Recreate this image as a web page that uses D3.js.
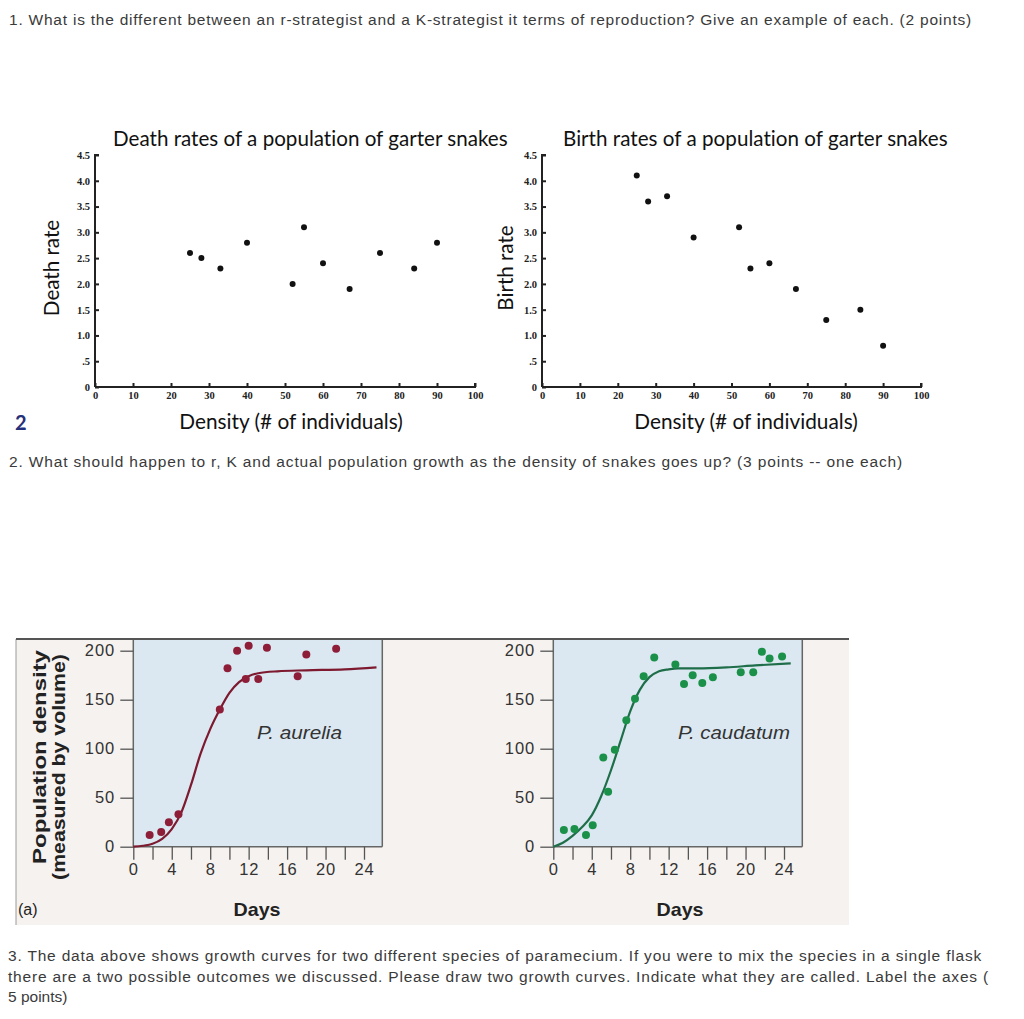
<!DOCTYPE html>
<html><head><meta charset="utf-8">
<script src="https://cdn.jsdelivr.net/npm/d3@7"></script>
<style>body{margin:0;background:#fff}svg{display:block}</style></head>
<body><svg id="c" width="1024" height="1019"></svg>
<script>
// ---------- data ----------
const deathDensity = [25, 28, 33, 40, 52, 55, 60, 67, 75, 84, 90];
const deathRate = [2.6, 2.5, 2.3, 2.8, 2.0, 3.1, 2.4, 1.9, 2.6, 2.3, 2.8];
const birthDensity = [25, 28, 33, 40, 52, 55, 60, 67, 75, 84, 90];
const birthRate = [4.1, 3.6, 3.7, 2.9, 3.1, 2.3, 2.4, 1.9, 1.3, 1.5, 0.8];
const snakeXTicks = [0, 10, 20, 30, 40, 50, 60, 70, 80, 90, 100];
const snakeXLabels = ["0", "10", "20", "30", "40", "50", "60", "70", "80", "90", "100"];
const snakeYTicks = [0, 0.5, 1, 1.5, 2, 2.5, 3, 3.5, 4, 4.5];
const snakeYLabels = ["0", ".5", "1.0", "1.5", "2.0", "2.5", "3.0", "3.5", "4.0", "4.5"];

const aureliaDays = [1.7, 2.9, 3.7, 4.7, 9.0, 9.8, 10.8, 12.0, 11.7, 13.0, 13.9, 17.1, 18.0, 21.1];
const aureliaPop  = [12, 15, 25, 33, 140, 182, 200, 205, 171, 171, 203, 174, 196, 202];
const aureliaCurveDays = [0, 1, 2, 3, 4, 5, 6, 7, 8, 9, 10, 11, 12, 13, 15, 18, 22, 25.3];
const aureliaCurvePop  = [0, 1, 3, 8, 18, 35, 63, 95, 120, 140, 157, 168, 174, 177, 179, 180, 181, 183];

const caudatumDays = [1.1, 2.2, 3.4, 4.1, 5.2, 5.7, 6.4, 7.6, 8.5, 9.4, 10.5, 12.7, 13.6, 14.5, 15.5, 16.6, 19.5, 20.8, 21.7, 22.5, 23.8];
const caudatumPop  = [17, 18, 12, 22, 91, 56, 99, 129, 151, 174, 193, 186, 166, 175, 167, 173, 178, 178, 199, 192, 194];
const caudatumCurveDays = [0, 1, 2, 3, 4, 5, 6, 7, 8, 9, 10, 11, 12, 13, 15, 18, 21, 24.7];
const caudatumCurvePop  = [0, 4, 11, 20, 32, 52, 78, 108, 138, 160, 173, 179, 181, 182, 182, 183, 185, 187];

const dayTicks = [0, 2, 4, 6, 8, 10, 12, 14, 16, 18, 20, 22, 24];
const dayLabels = [0, 4, 8, 12, 16, 20, 24];
const popTicks = [0, 50, 100, 150, 200];

const questions1 = ["1. What is the different between an r-strategist and a K-strategist it terms of reproduction? Give an example of each. (2 points)"];
const questions2 = ["2. What should happen to r, K and actual population growth as the density of snakes goes up? (3 points -- one each)"];
const questions3 = [
  "3. The data above shows growth curves for two different species of paramecium. If you were to mix the species in a single flask",
  "there are a two possible outcomes we discussed. Please draw two growth curves. Indicate what they are called. Label the axes (",
  "5 points)"
];

// ---------- drawing ----------
const svg = d3.select("#c");
const QFONT = "'Liberation Sans', Arial, Helvetica, sans-serif";
const CAL = "Lato, 'Noto Sans', sans-serif";

function fitText(sel, target) {
  const n = sel.node();
  const w = n.getComputedTextLength();
  const chars = n.textContent.length;
  let ls = (target - w) / chars;
  ls = Math.max(-0.6, Math.min(1, ls));
  sel.attr("letter-spacing", ls.toFixed(3));
}
function stretch(sel, target, pre) {
  const w = sel.node().getComputedTextLength();
  sel.attr("transform", `${pre} scale(${(target / w).toFixed(4)},1)`);
}

// question text
const q1 = svg.append("text").attr("x", 9).attr("y", 25).text(questions1[0])
  .style("font", "15.5px " + QFONT).attr("fill", "#3a3a3a");
fitText(q1, 963);
const q2 = svg.append("text").attr("x", 9).attr("y", 467).text(questions2[0])
  .style("font", "15.5px " + QFONT).attr("fill", "#3a3a3a");
fitText(q2, 894);
const q3w = [974, 981, null];
questions3.forEach((t, i) => {
  const s = svg.append("text").attr("x", 8).attr("y", 961 + i * 20.5).text(t)
    .style("font", "15.5px " + QFONT).attr("fill", "#3a3a3a");
  if (q3w[i]) fitText(s, q3w[i]);
});

// "2" marker
svg.append("text").attr("x", 15).attr("y", 430).text("2")
  .style("font", "bold 20px " + CAL).attr("fill", "#25307a");

// ---------- snake scatter charts ----------
function snakeChart(x0, x1, xVals, yVals, title, titleX, titleW, yLabel, yLabelX, xLabelCx) {
  const x = d3.scaleLinear().domain([0, 100]).range([x0, x1]);
  const y = d3.scaleLinear().domain([0, 4.5]).range([387, 155]);
  const g = svg.append("g");

  const ax = g.append("g").attr("transform", `translate(0,${y(0)})`)
    .call(d3.axisBottom(x).tickValues(snakeXTicks).tickSize(-4).tickPadding(5)
      .tickFormat((d, i) => snakeXLabels[i]));
  const ay = g.append("g").attr("transform", `translate(${x(0)},0)`)
    .call(d3.axisLeft(y).tickValues(snakeYTicks).tickSize(-4).tickPadding(5)
      .tickFormat((d, i) => snakeYLabels[i]));
  [ax, ay].forEach(a => {
    a.select(".domain").attr("stroke", "#222").attr("stroke-width", 2);
    a.selectAll(".tick line").attr("stroke", "#222").attr("stroke-width", 2);
    a.selectAll(".tick text").style("font", "bold 10.5px 'Liberation Serif', serif").attr("fill", "#222");
  });
  ay.select(".domain").attr("d", `M0,${y(0)}V${y(4.5)}h4`);
  ax.select(".domain").attr("d", `M${x(0)},0H${x(100)}v-4`);

  g.selectAll("circle.pt").data(xVals.map((d, i) => [d, yVals[i]])).enter()
    .append("circle").attr("class", "pt")
    .attr("cx", d => x(d[0])).attr("cy", d => y(d[1])).attr("r", 3).attr("fill", "#111");

  const t = g.append("text").attr("x", titleX).attr("y", 146).text(title)
    .style("font", "20.6px " + CAL).attr("fill", "#111");
  fitText(t, titleW);
  g.append("text").attr("transform", `translate(${yLabelX},268) rotate(-90)`)
    .attr("text-anchor", "middle").text(yLabel)
    .style("font", "20.6px " + CAL).attr("fill", "#111");
  g.append("text").attr("x", xLabelCx).attr("y", 429).attr("text-anchor", "middle")
    .text("Density (# of individuals)").style("font", "20.8px " + CAL).attr("fill", "#111");
}
snakeChart(95, 475, deathDensity, deathRate, "Death rates of a population of garter snakes", 113, 395, "Death rate", 59, 291);
snakeChart(542, 921, birthDensity, birthRate, "Birth rates of a population of garter snakes", 563, 385, "Birth rate", 513, 746);

// ---------- paramecium panel ----------
svg.append("rect").attr("x", 16).attr("y", 639).attr("width", 833).attr("height", 286).attr("fill", "#f6f2ef");
svg.append("line").attr("x1", 16).attr("x2", 16).attr("y1", 639).attr("y2", 925).attr("stroke", "#9a9a9a").attr("stroke-width", 1);

function growthChart(x0, days, pop, cDays, cPop, ptColor, lnColor, name, nameX, nameW, daysX) {
  const x = d3.scaleLinear().domain([0, 24]).range([x0, x0 + 230.7]);
  const y = d3.scaleLinear().domain([0, 200]).range([846.7, 650.7]);
  const right = x0 + 249;
  const g = svg.append("g");
  g.append("rect").attr("x", x0).attr("y", 639).attr("width", right - x0).attr("height", y(0) - 639)
    .attr("fill", "#dbe8f1");
  g.append("line").attr("x1", right).attr("x2", right).attr("y1", 639).attr("y2", y(0))
    .attr("stroke", "#666").attr("stroke-width", 1.5);

  const ax = g.append("g").attr("transform", `translate(0,${y(0)})`)
    .call(d3.axisBottom(x).tickValues(dayTicks).tickSize(13).tickPadding(4)
      .tickFormat(d => dayLabels.includes(d) ? d : ""));
  const ay = g.append("g").attr("transform", `translate(${x0},0)`)
    .call(d3.axisLeft(y).tickValues(popTicks).tickSize(13).tickPadding(5));
  [ax, ay].forEach(a => {
    a.selectAll(".tick line").attr("stroke", "#555").attr("stroke-width", 1.3);
    a.selectAll(".tick text").style("font", "16.5px " + QFONT).attr("fill", "#333");
  });
  ax.selectAll(".tick text").attr("letter-spacing", 0.8);
  ay.selectAll(".tick text").attr("letter-spacing", 1);
  ax.select(".domain").attr("d", `M${x0},0H${right}`).attr("stroke", "#666").attr("stroke-width", 1.5);
  ay.select(".domain").attr("d", `M0,${y(0)}V639`).attr("stroke", "#666").attr("stroke-width", 1.5);

  const line = d3.line().x(d => x(d[0])).y(d => y(d[1])).curve(d3.curveMonotoneX);
  g.append("path").datum(cDays.map((d, i) => [d, cPop[i]])).attr("d", line)
    .attr("fill", "none").attr("stroke", lnColor).attr("stroke-width", 2.2);
  g.selectAll("circle.pp").data(days.map((d, i) => [d, pop[i]])).enter()
    .append("circle").attr("class", "pp")
    .attr("cx", d => x(d[0])).attr("cy", d => y(d[1])).attr("r", 4).attr("fill", ptColor);

  const nm = g.append("text").text(name)
    .style("font", "italic 17.5px " + QFONT).attr("fill", "#333");
  stretch(nm, nameW, `translate(${nameX},739)`);
  const dy = g.append("text").attr("text-anchor", "middle").text("Days")
    .style("font", "bold 17.5px " + QFONT).attr("fill", "#222");
  stretch(dy, 47, `translate(${daysX},916)`);
}
growthChart(133.3, aureliaDays, aureliaPop, aureliaCurveDays, aureliaCurvePop,
  "#8e1d38", "#7d1a30", "P. aurelia", 257, 85, 257);
growthChart(553.3, caudatumDays, caudatumPop, caudatumCurveDays, caudatumCurvePop,
  "#1b9049", "#1f6e4a", "P. caudatum", 678, 112, 680);

// top rule of the panel
svg.append("line").attr("x1", 16).attr("x2", 849).attr("y1", 639).attr("y2", 639)
  .attr("stroke", "#555").attr("stroke-width", 2);

// y-axis titles
const p1 = svg.append("text").attr("text-anchor", "middle")
  .text("Population density").style("font", "bold 17.5px " + QFONT).attr("fill", "#222");
stretch(p1, 214, "translate(46,757) rotate(-90)");
const p2 = svg.append("text").attr("text-anchor", "middle")
  .text("(measured by volume)").style("font", "bold 17.5px " + QFONT).attr("fill", "#222");
stretch(p2, 226, "translate(65,767) rotate(-90)");
svg.append("text").attr("x", 18).attr("y", 915).text("(a)")
  .style("font", "16px " + QFONT).attr("fill", "#222");
</script>
</body></html>
